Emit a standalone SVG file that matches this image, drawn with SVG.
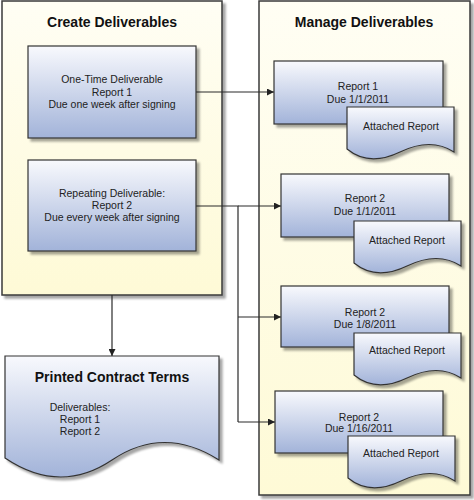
<svg xmlns="http://www.w3.org/2000/svg" width="474" height="500" viewBox="0 0 474 500">
<defs>
<linearGradient id="panelGrad" x1="0" y1="0" x2="0" y2="1">
<stop offset="0" stop-color="#FFFEF4"/>
<stop offset="1" stop-color="#FEFAD6"/>
</linearGradient>
<linearGradient id="boxGrad" x1="0" y1="0" x2="0" y2="1">
<stop offset="0" stop-color="#F8F9FD"/>
<stop offset="1" stop-color="#A2B3D9"/>
</linearGradient>
<filter id="shadow" x="-10%" y="-10%" width="130%" height="130%">
<feDropShadow dx="3" dy="3" stdDeviation="1.2" flood-color="#000" flood-opacity="0.35"/>
</filter>
<marker id="arrow" viewBox="0 0 10 10" refX="10" refY="5" markerWidth="7" markerHeight="7" markerUnits="userSpaceOnUse" orient="auto">
<path d="M0,0 L10,5 L0,10 Z" fill="#222"/>
</marker>
<path id="attDoc" d="M0,0 H107 V45 Q84,30 53,45 Q22,60 0,42 Z"/>
</defs>
<style>
.panel{fill:url(#panelGrad);stroke:#3a3a3a;stroke-width:1.5;filter:url(#shadow)}
.box{fill:url(#boxGrad);stroke:#333;stroke-width:1.2;filter:url(#shadow)}
.conn{fill:none;stroke:#2a2a2a;stroke-width:1.2}
.title{font-family:"Liberation Sans",Arial,sans-serif;font-weight:bold;font-size:14px;fill:#111;text-anchor:middle}
.lbl{font-family:"Liberation Sans",Arial,sans-serif;font-size:10.5px;fill:#222;text-anchor:middle}
</style>

<g id="panel-create">
<rect class="panel" x="2" y="1" width="220" height="294"/>
<text class="title" x="112" y="27">Create Deliverables</text>
</g>
<g id="panel-manage">
<rect class="panel" x="259" y="1" width="211" height="494"/>
<text class="title" x="364" y="27">Manage Deliverables</text>
</g>

<g id="connectors">
<line class="conn" x1="196" y1="92" x2="274" y2="92" marker-end="url(#arrow)"/>
<polyline class="conn" points="196,206 238,206 238,422"/>
<line class="conn" x1="238" y1="206" x2="281" y2="206" marker-end="url(#arrow)"/>
<line class="conn" x1="238" y1="317" x2="281" y2="317" marker-end="url(#arrow)"/>
<line class="conn" x1="238" y1="422" x2="275" y2="422" marker-end="url(#arrow)"/>
<line class="conn" x1="112" y1="295" x2="112" y2="356" marker-end="url(#arrow)"/>
</g>

<g id="one-time">
<rect class="box" x="28" y="46" width="168" height="92"/>
<text class="lbl" x="112" y="83">One-Time Deliverable</text>
<text class="lbl" x="112" y="95.5">Report 1</text>
<text class="lbl" x="112" y="108">Due one week after signing</text>
</g>
<g id="repeating">
<rect class="box" x="28" y="160" width="168" height="91"/>
<text class="lbl" x="112" y="197">Repeating Deliverable:</text>
<text class="lbl" x="112" y="209">Report 2</text>
<text class="lbl" x="112" y="221">Due every week after signing</text>
</g>
<g id="printed">
<path class="box" d="M5,356 H219 V460 Q164,425 112,460 Q60,495 5,458 Z"/>
<text class="title" x="112" y="382">Printed Contract Terms</text>
<text class="lbl" x="80" y="411">Deliverables:</text>
<text class="lbl" x="80" y="423">Report 1</text>
<text class="lbl" x="80" y="435">Report 2</text>
</g>

<g id="report1">
<rect class="box" x="274" y="61" width="169" height="63"/>
<text class="lbl" x="358" y="90">Report 1</text>
<text class="lbl" x="358" y="103">Due 1/1/2011</text>
<use href="#attDoc" class="box" x="347" y="107"/>
<text class="lbl" x="401" y="130">Attached Report</text>
</g>
<g id="report2a">
<rect class="box" x="281" y="174" width="168" height="63"/>
<text class="lbl" x="365" y="202">Report 2</text>
<text class="lbl" x="365" y="215">Due 1/1/2011</text>
<use href="#attDoc" class="box" x="354" y="221"/>
<text class="lbl" x="407" y="244">Attached Report</text>
</g>
<g id="report2b">
<rect class="box" x="281" y="286" width="168" height="61"/>
<text class="lbl" x="365" y="316">Report 2</text>
<text class="lbl" x="365" y="328">Due 1/8/2011</text>
<use href="#attDoc" class="box" x="354" y="333"/>
<text class="lbl" x="407" y="354">Attached Report</text>
</g>
<g id="report2c">
<rect class="box" x="275" y="391" width="168" height="62"/>
<text class="lbl" x="359" y="421">Report 2</text>
<text class="lbl" x="359" y="432">Due 1/16/2011</text>
<use href="#attDoc" class="box" x="348" y="436"/>
<text class="lbl" x="401" y="457">Attached Report</text>
</g>
</svg>
